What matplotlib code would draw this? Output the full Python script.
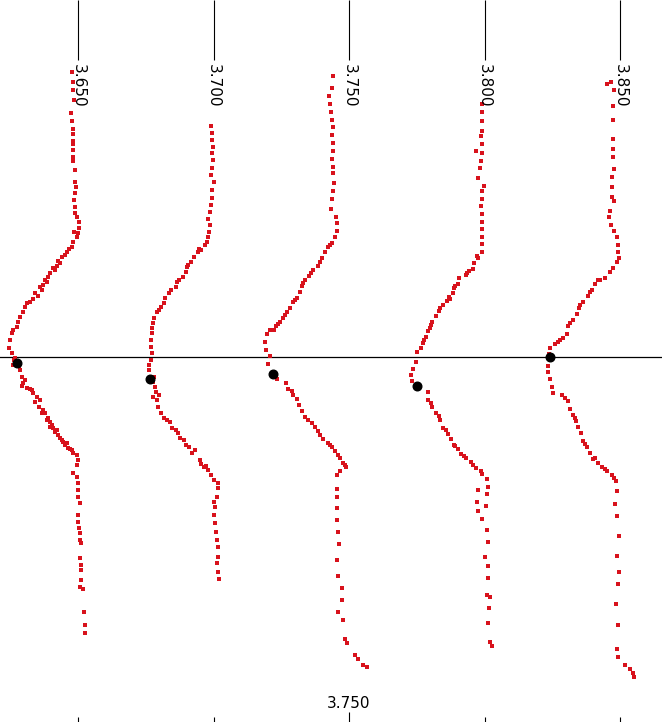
import matplotlib
matplotlib.use("Agg")
import matplotlib.pyplot as plt
import numpy as np

# ---------------- data ----------------
trace_positions = [3.650, 3.700, 3.750, 3.800, 3.850]
top_tick_labels = ["3.650", "3.700", "3.750", "3.800", "3.850"]
bottom_major_tick = 3.750
bottom_label = "3.750"
gain = 0.05 / 135.5          # x-units per amplitude unit

# each trace: time samples (downwards, 0 = reference line) and amplitudes
t1 = [-285, -275, -267, -257, -244, -236, -228, -223, -216, -213, -207, -200, -196, -187, -175, -170, -164, -157,
      -150, -144, -140, -135, -129, -125, -124, -120, -115, -110, -108, -105, -102, -100, -94, -91, -87, -84, -80,
      -75, -72, -67, -61, -58, -55, -54, -50, -45, -40, -35, -30, -27, -24, -17, -9, -4, 1, 3, 9, 8, 13, 20, 26, 29,
      31, 33, 36, 40, 45, 43, 50, 56, 56, 63, 65, 70, 71, 75, 78, 81, 85, 86, 91, 93, 96, 98, 103, 108, 116, 120,
      126, 133, 140, 146, 158, 165, 171, 176, 183, 186, 201, 208, 213, 223, 230, 232, 255, 268, 276]
a1 = [-6, -5, -5, -4, -7, -6, -5, -5, -5, -5, -5, -5, -5, -3, -3, -2, -3, -4, -3, -3, -1, 1, 1, -4, 0, -1, -5, -6,
      -9, -11, -13, -16, -18, -21, -23, -28, -30, -31, -35, -36, -40, -45, -48, -51, -53, -55, -58, -60, -61, -65,
      -66, -68, -69, -66, -63, -64, -59, -65, -58, -56, -55, -56, -51, -46, -45, -41, -43, -38, -39, -36, -33, -31,
      -28, -28, -25, -23, -20, -18, -15, -11, -10, -6, -5, -1, 0, -1, -5, -1, 0, 0, 0, 2, 0, 0, 1, 2, 2, 3, 2, 3, 3,
      3, 2, 5, 6, 7, 7]
t1b = [-96, -89, -77, -70, -64, 23, 32, 53, 61, 68, 73, 83, 88, 92]
a1b = [-20, -25, -33, -38, -43, -53, -48, -35, -30, -26, -21, -16, -13, -8]

t2 = [-231, -224, -217, -210, -204, -197, -189, -182, -175, -167, -159, -152, -145, -138, -132, -125, -120, -115,
      -112, -108, -105, -100, -95, -90, -85, -80, -75, -70, -64, -59, -54, -50, -45, -39, -34, -29, -24, -17, -10,
      -4, 3, 8, 13, 20, 25, 30, 35, 40, 43, 50, 56, 61, 65, 71, 76, 81, 83, 88, 90, 96, 103, 107, 110, 113, 118,
      123, 126, 131, 140, 145, 150, 158, 166, 175, 183, 190, 200, 206, 215, 222]
a2 = [-3, -2, -2, -1, -2, -1, -2, -3, 0, -2, -2, -3, -4, -6, -4, -5, -6, -7, -9, -15, -16, -20, -23, -27, -28, -31,
      -37, -38, -45, -49, -50, -53, -57, -60, -61, -62, -62, -63, -63, -62, -63, -65, -65, -60, -61, -59, -58, -61,
      -57, -56, -53, -50, -44, -42, -36, -34, -30, -28, -25, -22, -14, -13, -10, -6, -3, 0, 4, 4, 3, 0, 1, 0, 1, 2,
      3, 4, 4, 3, 4, 5]
t2b = [-107, -92, -77, -67, -47, 38, 63, 73, 93, 109]
a2b = [-13, -26, -35, -43, -55, -55, -47, -38, -19, -8]

t3 = [-281, -269, -261, -253, -245, -237, -230, -222, -214, -206, -198, -190, -184, -174, -166, -158, -148, -140,
      -134, -126, -120, -114, -110, -105, -99, -91, -87, -81, -77, -71, -65, -59, -55, -49, -45, -39, -35, -31, -27,
      -27, -23, -15, -7, -1, 7, 22, 26, 32, 34, 42, 48, 54, 60, 66, 70, 74, 82, 86, 90, 94, 98, 106, 108, 114, 118,
      132, 140, 151, 163, 175, 187, 203, 219, 231, 243, 255, 263, 282, 286, 298, 302, 308, 310]
a3 = [-16, -17, -20, -19, -18, -17, -16, -17, -16, -16, -17, -16, -16, -15, -16, -17, -18, -13, -12, -12, -14, -17,
      -21, -24, -27, -31, -36, -40, -44, -47, -49, -52, -56, -59, -62, -66, -69, -73, -75, -79, -82, -84, -83, -79,
      -81, -72, -63, -61, -57, -52, -50, -47, -44, -37, -34, -31, -26, -21, -17, -14, -11, -6, -4, -9, -12, -12,
      -12, -12, -12, -11, -10, -12, -11, -7, -7, -11, -6, -4, -2, 6, 9, 14, 18]
t3b = [-112, -95, -84, -74, -57, -42, -33, 38, 63, 78, 88, 101, 110]
a3b = [-19, -29, -38, -46, -54, -64, -71, -56, -41, -29, -19, -9, -3]

t4 = [-253, -245, -236, -226, -221, -213, -206, -204, -196, -189, -179, -171, -166, -158, -151, -143, -135, -128,
      -120, -113, -105, -101, -94, -88, -86, -82, -79, -73, -69, -64, -60, -56, -52, -46, -41, -35, -29, -26, -20,
      -14, -9, -5, 5, 12, 18, 24, 35, 43, 50, 56, 63, 71, 77, 82, 88, 92, 97, 101, 105, 111, 114, 122, 130, 133,
      137, 145, 149, 154, 162, 173, 185, 200, 209, 221, 238, 240, 251, 266, 285, 289]
a4 = [-2, -3, -2, -3, -4, -3, -9, -3, -4, -5, -6, -1, -2, -3, -4, -3, -2, -3, -2, -2, -3, -8, -10, -12, -16, -19,
      -26, -27, -31, -32, -36, -38, -42, -46, -49, -52, -55, -56, -59, -62, -64, -67, -69, -72, -74, -73, -57, -56,
      -52, -49, -44, -42, -37, -34, -31, -27, -24, -19, -14, -9, -4, 2, 3, -7, 2, -8, 1, -6, -2, 2, 3, 0, 3, 3, 2,
      5, 4, 3, 5, 7]
t4b = [-99, -84, -71, -58, -49, -32, -17, 46, 59, 73, 89, 99, 108, 117]
a4b = [-7, -18, -29, -35, -44, -54, -61, -54, -46, -39, -29, -21, -12, -2]

t5 = [-275, -273, -267, -251, -237, -218, -208, -200, -188, -180, -170, -160, -156, -146, -140, -132, -126, -120,
      -112, -105, -99, -95, -89, -85, -79, -77, -73, -67, -61, -55, -49, -43, -37, -31, -23, -19, -15, -13, -9, -3,
      9, 15, 22, 30, 36, 38, 44, 52, 58, 64, 70, 76, 84, 90, 96, 102, 106, 110, 114, 118, 124, 134, 147, 159, 179,
      199, 215, 227, 247, 268, 292, 300, 308, 312, 316, 320]
a5 = [-9, -13, -6, -7, -7, -7, -7, -7, -6, -8, -8, -8, -6, -10, -11, -9, -6, -3, -2, -2, -1, -3, -7, -10, -15, -22,
      -25, -28, -32, -37, -41, -43, -47, -52, -53, -57, -62, -65, -70, -71, -72, -72, -70, -68, -67, -58, -52, -50,
      -47, -44, -42, -39, -37, -33, -30, -27, -22, -18, -13, -8, -4, -3, -5, -3, -1, -3, -1, -2, -4, -2, -3, -2, 5,
      10, 13, 14]
t5b = [-77, -65, -52, -34, -17, 41, 61, 87, 101, 112, 121]
a5b = [-20, -30, -40, -50, -60, -55, -45, -35, -25, -15, -6]

traces_t = [t1 + t1b, t2 + t2b, t3 + t3b, t4 + t4b, t5 + t5b]
traces_a = [a1 + a1b, a2 + a2b, a3 + a3b, a4 + a4b, a5 + a5b]

# picked event on each trace (time, amplitude)
pick_t = [6, 22, 17, 29, 0]
pick_a = [-61, -64, -76, -67, -70]

# ---------------- figure ----------------
W, H = 662, 722
fig = plt.figure(figsize=(W / 100, H / 100), dpi=100)
ax = fig.add_axes([0, 0, 1, 1])
ax.axis("off")
x_left = trace_positions[0] - 78 * gain
x_right = trace_positions[0] + (W - 78) * gain
ax.set_xlim(x_left, x_right)
ax.set_ylim(365, -357)

red = "#d8121c"
ax.axhline(0, color="black", lw=0.9, zorder=2)

for base, tt, aa in zip(trace_positions, traces_t, traces_a):
    xs = base + np.array(aa) * gain
    ax.plot(xs, tt, ls="none", marker="s", ms=2.2, mew=0, color=red, zorder=3)

for base, pt, pa in zip(trace_positions, pick_t, pick_a):
    ax.plot(base + pa * gain, pt, ls="none", marker="o", ms=6.2, color="black", zorder=4)

xt = ax.get_xaxis_transform()
ax.vlines(trace_positions, 1 - 60 / H, 1, transform=xt, color="black", lw=0.8)
for pos, lab in zip(trace_positions, top_tick_labels):
    ax.text(pos, 1 - 64 / H, lab, transform=xt, rotation=270, ha="center", va="top",
            fontsize=11, family="DejaVu Sans", color="black")

minor = [p for p in trace_positions if p != bottom_major_tick]
ax.vlines(minor, 0, 5 / H, transform=xt, color="black", lw=0.8)
ax.vlines([bottom_major_tick], 0, 10 / H, transform=xt, color="black", lw=0.8)
ax.text(bottom_major_tick, 19 / H, bottom_label, transform=xt, ha="center", va="center",
        fontsize=11, family="DejaVu Sans", color="black")

fig.savefig("out.png", dpi=100)
